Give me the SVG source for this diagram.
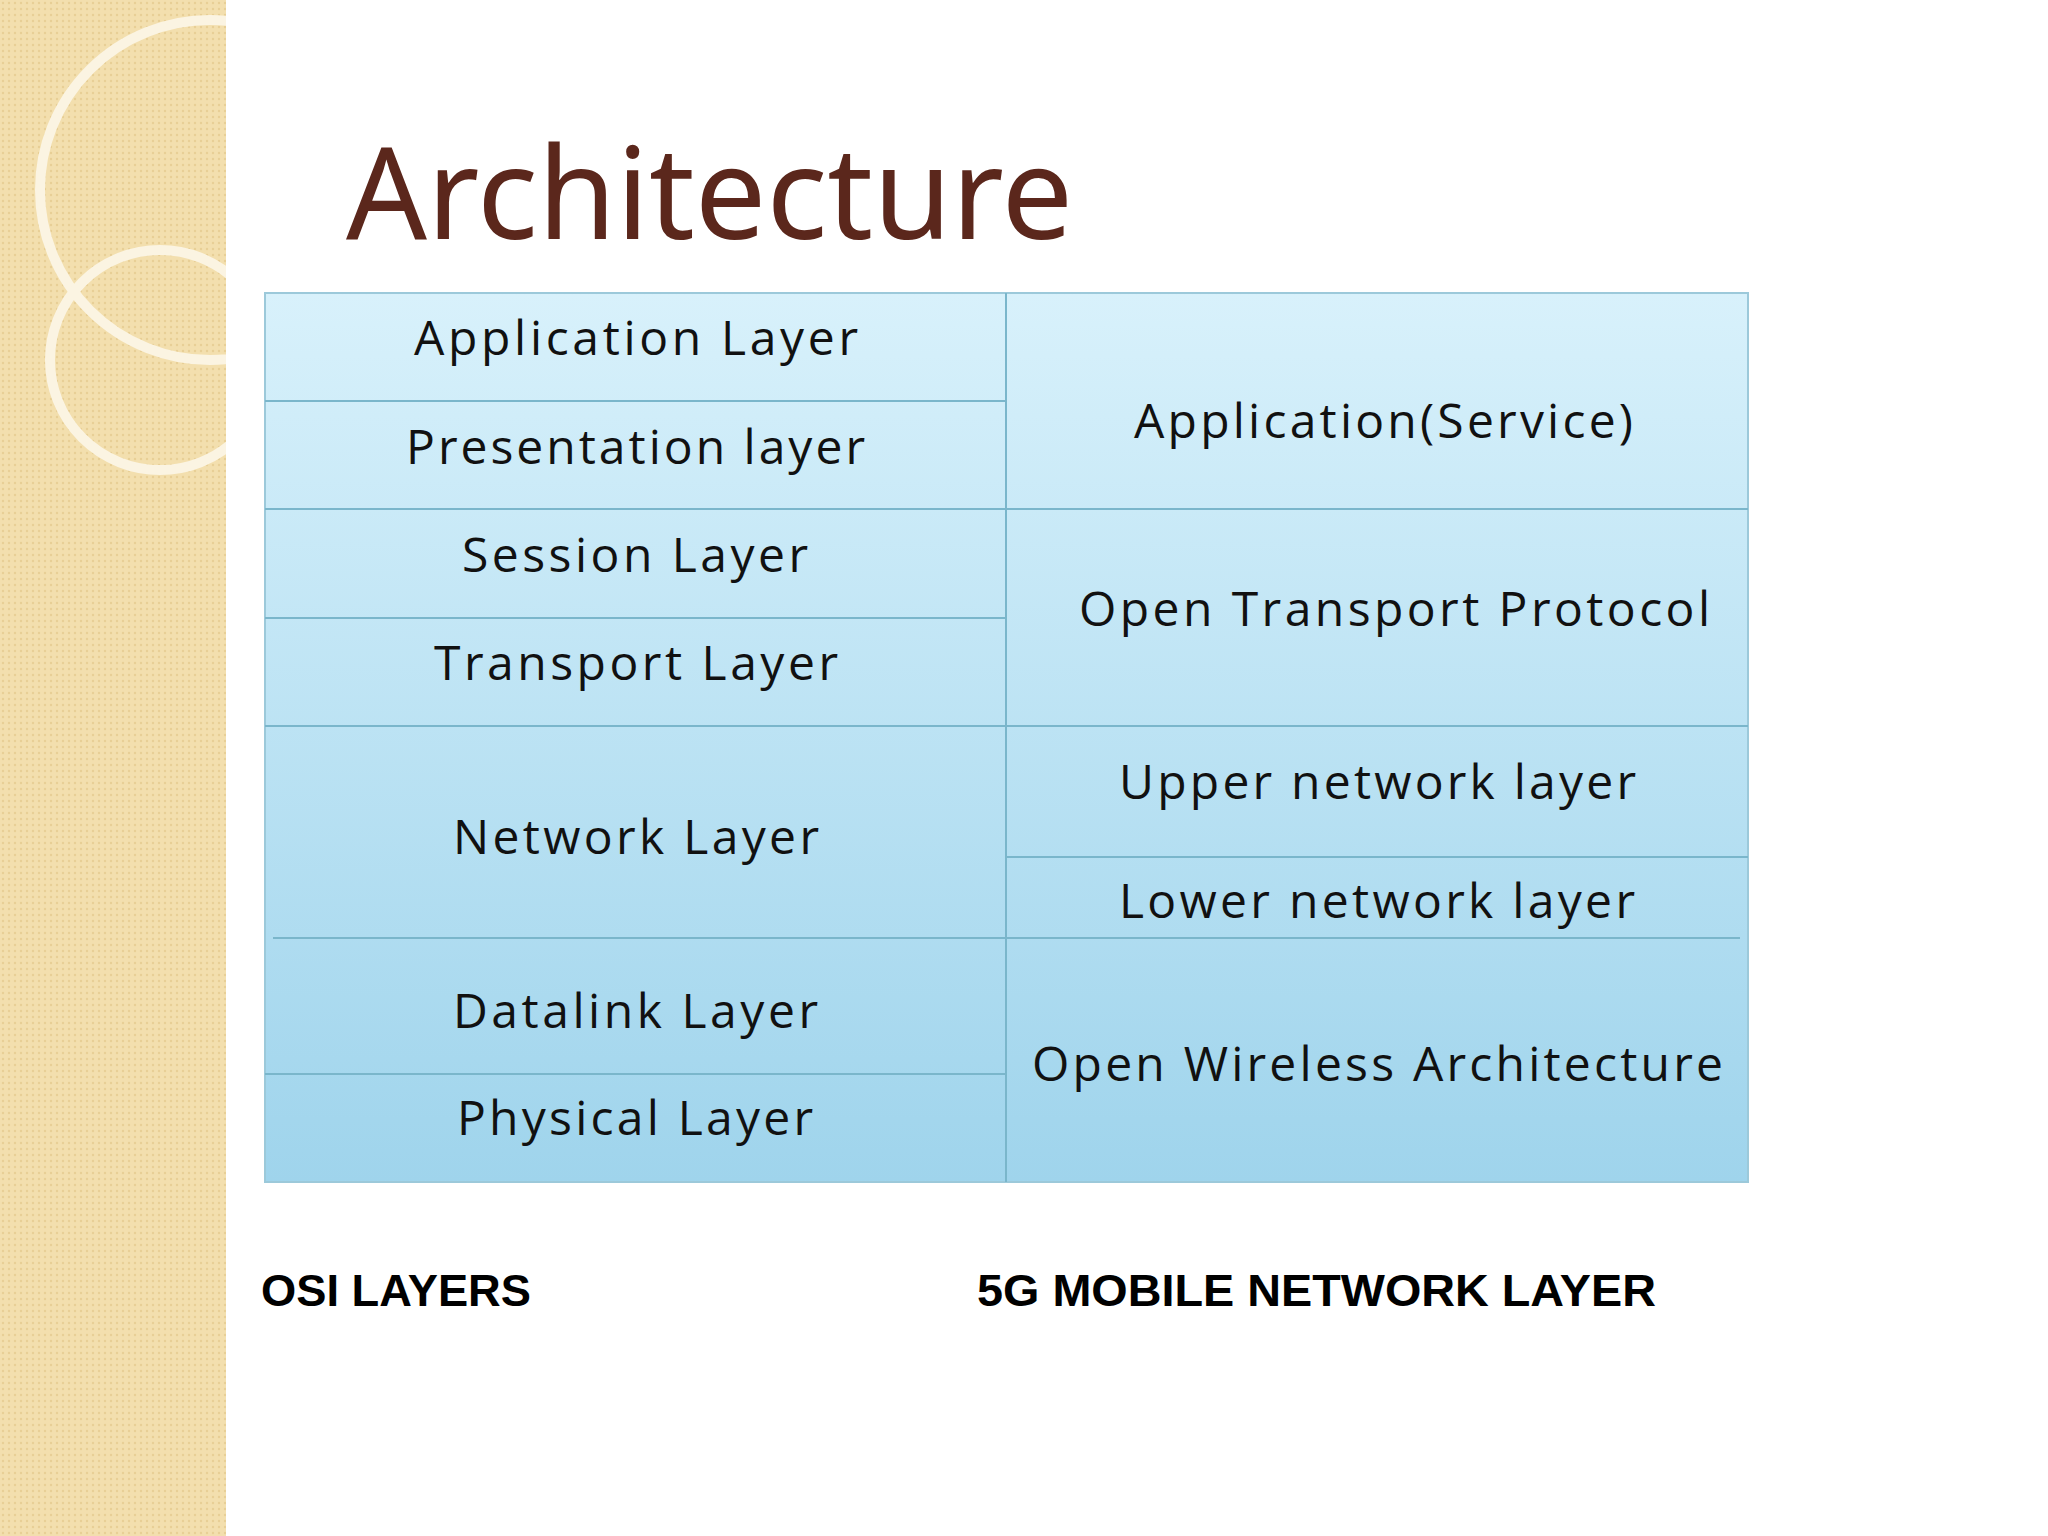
<svg xmlns="http://www.w3.org/2000/svg" width="2048" height="1536" viewBox="0 0 2048 1536">
<defs>
<linearGradient id="g" x1="0" y1="0" x2="0" y2="1"><stop offset="0" stop-color="#d8f1fb"/><stop offset="1" stop-color="#9fd4ec"/></linearGradient>
<pattern id="dots" width="6" height="6" patternUnits="userSpaceOnUse"><rect width="6" height="6" fill="#f3dfae"/><circle cx="3" cy="3" r="1.2" fill="#e8cf95"/></pattern>
<clipPath id="side"><rect width="226" height="1536"/></clipPath>
</defs>
<style>
.t{font-family:"Open Sans",sans-serif;font-size:48px;fill:#111;letter-spacing:1px}
.ln{stroke:#7ab6cb;stroke-width:2}
.b{font-family:"Liberation Sans",sans-serif;font-weight:bold;font-size:44px;fill:#000}
</style>
<rect width="2048" height="1536" fill="#fff"/>
<rect width="226" height="1536" fill="url(#dots)"/>
<g fill="none" stroke="#fbf4e2" stroke-width="10" clip-path="url(#side)">
<circle cx="210" cy="190" r="170"/>
<circle cx="160" cy="360" r="110"/>
</g>
<text x="346" y="239" font-family="Noto Sans, sans-serif" font-size="128" fill="#5b271c" textLength="727" lengthAdjust="spacingAndGlyphs">Architecture</text>
<g id="table">
<rect x="265" y="293" width="1483" height="889" fill="url(#g)" stroke="#9cc9da" stroke-width="2"/>
</g>
<g id="connectors">
<line class="ln" x1="1006" y1="293" x2="1006" y2="1182"/>
<line class="ln" x1="265" y1="401" x2="1006" y2="401"/>
<line class="ln" x1="265" y1="509" x2="1748" y2="509"/>
<line class="ln" x1="265" y1="618" x2="1006" y2="618"/>
<line class="ln" x1="265" y1="726" x2="1748" y2="726"/>
<line class="ln" x1="1006" y1="857" x2="1748" y2="857"/>
<line class="ln" x1="273" y1="938" x2="1740" y2="938" stroke="#4a8ea8"/>
<line class="ln" x1="265" y1="1074" x2="1006" y2="1074"/>
</g>
<g id="osi">
<text class="t" x="414" y="355" textLength="445">Application Layer</text>
<text class="t" x="406" y="464" textLength="460">Presentation layer</text>
<text class="t" x="462" y="572" textLength="347">Session Layer</text>
<text class="t" x="434" y="680" textLength="405">Transport Layer</text>
<text class="t" x="453" y="854" textLength="367">Network Layer</text>
<text class="t" x="453" y="1028" textLength="366">Datalink Layer</text>
<text class="t" x="457" y="1135" textLength="357">Physical Layer</text>
</g>
<g id="g5">
<text class="t" x="1134" y="438" textLength="500">Application(Service)</text>
<text class="t" x="1079" y="626" textLength="632">Open Transport Protocol</text>
<text class="t" x="1119" y="799" textLength="518">Upper network layer</text>
<text class="t" x="1119" y="918" textLength="517">Lower network layer</text>
<text class="t" x="1032" y="1081" textLength="692">Open Wireless Architecture</text>
</g>
<text class="b" x="261" y="1306" textLength="270" lengthAdjust="spacingAndGlyphs">OSI LAYERS</text>
<text class="b" x="977" y="1306" textLength="679" lengthAdjust="spacingAndGlyphs">5G MOBILE NETWORK LAYER</text>
</svg>
